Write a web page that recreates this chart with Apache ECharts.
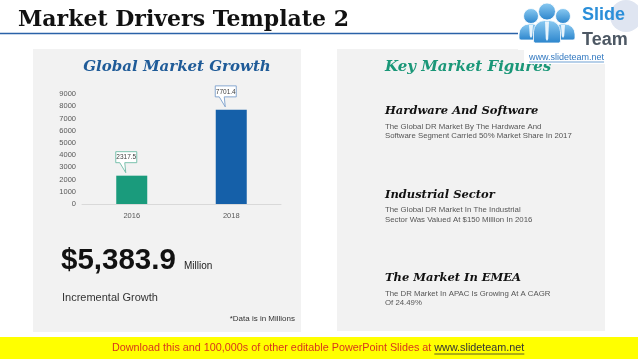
<!DOCTYPE html>
<html>
<head>
<meta charset="utf-8">
<script src="https://cdn.jsdelivr.net/npm/echarts@6/dist/echarts.min.js"></script>
<style>
html,body{margin:0;padding:0;background:#fff;}
#chart{width:638px;height:359px;}
</style>
</head>
<body>
<div id="chart"></div>
<script>
// ---- data ----
const years = ['2016', '2018'];
const growthValues = [2317.5, 7701.4];
const barColors = ['#1a9b7c', '#1560a9'];
const calloutBorders = ['#6cbba5', '#7b9fcc'];
const yMin = 0, yMax = 9000, yInterval = 1000;

const pageTitle = 'Market Drivers Template 2';
const chartTitle = 'Global Market Growth';
const bigValue = '$5,383.9';
const bigUnit = 'Million';
const bigCaption = 'Incremental Growth';
const dataNote = '*Data is in Millions';
const figuresTitle = 'Key Market Figures';
const figureHeads = ['Hardware And Software', 'Industrial Sector', 'The Market In EMEA'];
const figureLines = [
  ['The Global DR Market By The Hardware And', 'Software Segment Carried 50% Market Share In 2017'],
  ['The Global DR Market In The Industrial', 'Sector Was Valued At $150 Million In 2016'],
  ['The DR Market In APAC Is Growing At A CAGR', 'Of 24.49%']
];
const footerText = 'Download this and 100,000s of other editable PowerPoint Slides at ';
const footerLink = 'www.slideteam.net';

// ---- helpers ----
const SERIF = '"DejaVu Serif", Georgia, serif';
const SANS = '"Liberation Sans", Arial, sans-serif';
function measure(text, font) {
  const c = document.createElement('canvas').getContext('2d');
  c.font = font;
  return c.measureText(text).width;
}

const chart = echarts.init(document.getElementById('chart'), null, {renderer: 'canvas'});

const g = [];
// panels
g.push({type: 'rect', z: -1, shape: {x: 33, y: 49, width: 268, height: 283}, style: {fill: '#f2f2f2'}});
g.push({type: 'rect', z: -1, shape: {x: 337, y: 49, width: 268, height: 282}, style: {fill: '#f2f2f2'}});
// title + rule
g.push({type: 'text', z: 5, style: {text: pageTitle, x: 18, y: 20, verticalAlign: 'middle', font: 'bold 22px ' + SERIF, fill: '#111'}});
g.push({type: 'line', z: 5, shape: {x1: 0, y1: 33.5, x2: 526, y2: 33.5}, style: {stroke: '#2a62a8', lineWidth: 1.6}});
// left panel texts
g.push({type: 'text', z: 5, style: {text: chartTitle, x: 177, y: 67, align: 'center', verticalAlign: 'middle', font: 'italic bold 15px ' + SERIF, fill: '#1f5b98'}});
g.push({type: 'text', z: 5, style: {text: bigValue, x: 61, y: 261, verticalAlign: 'middle', font: 'bold 29.5px ' + SANS, fill: '#111'}});
g.push({type: 'text', z: 5, style: {text: bigUnit, x: 184, y: 266, verticalAlign: 'middle', font: '10px ' + SANS, fill: '#222'}});
g.push({type: 'text', z: 5, style: {text: bigCaption, x: 62, y: 298, verticalAlign: 'middle', font: '11px ' + SANS, fill: '#333'}});
g.push({type: 'text', z: 5, style: {text: dataNote, x: 295, y: 319, align: 'right', verticalAlign: 'middle', font: '8px ' + SANS, fill: '#333'}});
// right panel texts
g.push({type: 'text', z: 5, style: {text: figuresTitle, x: 385, y: 67, verticalAlign: 'middle', font: 'italic bold 15px ' + SERIF, fill: '#1a9778'}});
const headY = [111.5, 195, 278.5];
figureHeads.forEach((h, i) => {
  g.push({type: 'text', z: 5, style: {text: h, x: 385, y: headY[i], verticalAlign: 'middle', font: 'italic bold 11.5px ' + SERIF, fill: '#111'}});
  figureLines[i].forEach((ln, j) => {
    g.push({type: 'text', z: 5, style: {text: ln, x: 385, y: headY[i] + 15 + j * 9.5, verticalAlign: 'middle', font: '7.8px ' + SANS, fill: '#555'}});
  });
});
// footer
g.push({type: 'rect', z: 5, shape: {x: 0, y: 337, width: 638, height: 22}, style: {fill: '#ffff00'}});
const fFont = '10.8px ' + SANS;
const w1 = measure(footerText, fFont), w2 = measure(footerLink, fFont);
const fx = 112;
g.push({type: 'text', z: 6, style: {text: footerText, x: fx, y: 348, verticalAlign: 'middle', font: fFont, fill: '#d8361c'}});
g.push({type: 'text', z: 6, style: {text: footerLink, x: fx + w1, y: 348, verticalAlign: 'middle', font: fFont, fill: '#333'}});
g.push({type: 'line', z: 6, shape: {x1: fx + w1, y1: 354, x2: fx + w1 + w2, y2: 354}, style: {stroke: '#333', lineWidth: 0.8}});
// logo
g.push({type: 'rect', z: 7, shape: {x: 518, y: 0, width: 120, height: 50}, style: {fill: '#fff'}});
g.push({type: 'rect', z: 7, shape: {x: 524, y: 50, width: 104, height: 14}, style: {fill: '#fff'}});
g.push({type: 'circle', z: 7, shape: {cx: 626, cy: 16, r: 16}, style: {fill: '#dfe5f1'}});
const personGrad = {type: 'linear', x: 0, y: 0, x2: 0, y2: 1, colorStops: [{offset: 0, color: '#8ccbf2'}, {offset: 1, color: '#2a84cc'}]};
function person(cx, headY, r, bw, top, bottom, z) {
  g.push({type: 'rect', z: z, shape: {x: cx - bw / 2, y: top, width: bw, height: bottom - top, r: [bw / 2.4, bw / 2.4, 2, 2]}, style: {fill: personGrad, stroke: '#fff', lineWidth: 0.8}});
  g.push({type: 'polygon', z: z, shape: {points: [[cx - 2, top + 1], [cx + 2, top + 1], [cx + 1.2, bottom - 4], [cx, bottom - 2], [cx - 1.2, bottom - 4]]}, style: {fill: '#e8f4fc'}});
  g.push({type: 'circle', z: z, shape: {cx: cx, cy: headY, r: r}, style: {fill: personGrad, stroke: '#fff', lineWidth: 0.8}});
}
person(531, 16, 7.5, 24, 24, 40, 8);
person(563, 16, 7.5, 24, 24, 40, 8);
person(547, 11.5, 8.5, 27, 20.5, 43, 9);
g.push({type: 'text', z: 10, style: {text: 'Slide', x: 582, y: 15, verticalAlign: 'middle', font: 'bold 18px ' + SANS, fill: '#2b8fd9'}});
g.push({type: 'text', z: 10, style: {text: 'Team', x: 582, y: 40, verticalAlign: 'middle', font: 'bold 18px ' + SANS, fill: '#4d5864'}});
const lw = measure('www.slideteam.net', '9px ' + SANS);
g.push({type: 'text', z: 10, style: {text: 'www.slideteam.net', x: 529, y: 57.5, verticalAlign: 'middle', font: '9px ' + SANS, fill: '#3178c0'}});
g.push({type: 'line', z: 10, shape: {x1: 529, y1: 62, x2: 529 + lw, y2: 62}, style: {stroke: '#3178c0', lineWidth: 0.7}});

const option = {
  backgroundColor: '#ffffff',
  animation: false,
  grid: {left: 82, right: 357, top: 94, bottom: 155, containLabel: false},
  xAxis: {
    type: 'category', data: years,
    axisLine: {lineStyle: {color: '#d9d9d9'}},
    axisTick: {show: false},
    axisLabel: {color: '#595959', fontSize: 7.5, fontFamily: SANS, margin: 8}
  },
  yAxis: {
    type: 'value', min: yMin, max: yMax, interval: yInterval,
    axisLine: {show: false}, axisTick: {show: false},
    splitLine: {show: false},
    axisLabel: {color: '#595959', fontSize: 7.5, fontFamily: SANS, margin: 6, formatter: v => String(v)}
  },
  series: [
    {
      type: 'bar', barWidth: 31, z: 2,
      data: growthValues.map((v, i) => ({value: v, itemStyle: {color: barColors[i]}}))
    },
    {
      type: 'custom', z: 3,
      data: growthValues.map((v, i) => [i, v]),
      encode: {x: 0, y: 1},
      renderItem: function (params, api) {
        const idx = api.value(0);
        const p = api.coord([idx, api.value(1)]);
        const tx = p[0] - 6, ty = p[1] - 3;
        const yb = ty - 10, yt = yb - 11;
        const xl = tx - 10, xr = tx + 11;
        return {
          type: 'group',
          children: [
            {type: 'polygon', shape: {points: [[xl, yt], [xr, yt], [xr, yb], [tx - 1, yb], [tx, ty], [tx - 6, yb], [xl, yb]]},
             style: {fill: '#fff', stroke: calloutBorders[idx], lineWidth: 0.9}},
            {type: 'text', style: {text: String(growthValues[idx]), x: (xl + xr) / 2, y: (yt + yb) / 2 + 0.5, align: 'center', verticalAlign: 'middle', font: '6.5px ' + SANS, fill: '#404040'}}
          ]
        };
      }
    }
  ],
  graphic: {elements: g}
};
chart.setOption(option);
</script>
</body>
</html>
